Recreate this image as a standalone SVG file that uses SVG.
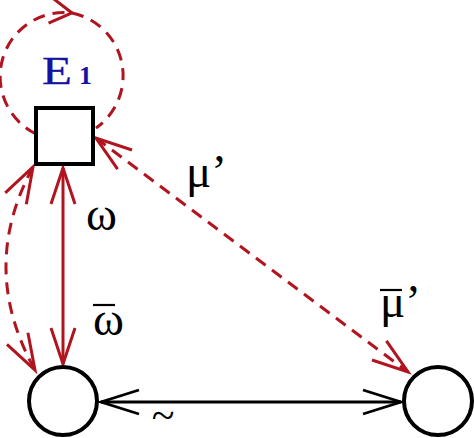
<svg xmlns="http://www.w3.org/2000/svg" width="474" height="438" viewBox="0 0 474 438">
<style>
.red{fill:none;stroke:#b0141e;stroke-width:3}
.dash{stroke-dasharray:12 8}
.blk{fill:none;stroke:#000;stroke-width:2.8}
.node{fill:#fff;stroke:#000;stroke-width:4}
.lbl{font-family:"Liberation Serif","Times New Roman",serif;font-size:47px;fill:#000}
.bar{stroke:#000;stroke-width:2.2}
</style>
<defs>
<marker id="ar" markerUnits="userSpaceOnUse" orient="auto-start-reverse" overflow="visible" markerWidth="1" markerHeight="1" refX="0" refY="0">
<path d="M-36,-12 L0,0 L-36,12" fill="none" stroke="#b0141e" stroke-width="3"/>
</marker>
<marker id="ars" markerUnits="userSpaceOnUse" orient="auto" overflow="visible" markerWidth="1" markerHeight="1" refX="0" refY="0">
<path d="M-22,-13 L0,0 L-22,13" fill="none" stroke="#b0141e" stroke-width="3"/>
</marker>
<marker id="ab" markerUnits="userSpaceOnUse" orient="auto-start-reverse" overflow="visible" markerWidth="1" markerHeight="1" refX="0" refY="0">
<path d="M-38,-12 L0,0 L-38,12" fill="none" stroke="#000" stroke-width="2.8"/>
</marker>
</defs>
<g id="connectors">
<path id="loop-a" class="red dash" d="M36,134 A64,64 0 0 1 72,13" marker-end="url(#ars)"/>
<path id="loop-b" class="red dash" d="M72,13 A64,64 0 0 1 96,128"/>
<path id="omega" class="red" d="M63,168 L63,364" marker-start="url(#ar)" marker-end="url(#ar)"/>
<path id="leftcurve" class="red dash" d="M33,167 Q-22,268 35,370" marker-start="url(#ar)" marker-end="url(#ar)"/>
<path id="mu" class="red dash" d="M96,138 L408,372" marker-start="url(#ar)" marker-end="url(#ar)"/>
<path id="bottom" class="blk" d="M101,402 L401,402" marker-start="url(#ab)" marker-end="url(#ab)"/>
</g>
<g id="E1">
<rect class="node" x="36" y="108" width="57" height="56"/>
<text x="42" y="84" font-family="Liberation Serif, serif" font-size="39" fill="#1414a0" stroke="#1414a0" stroke-width="0.3" textLength="30" lengthAdjust="spacingAndGlyphs">E</text>
<text x="79" y="84" font-family="Liberation Serif, serif" font-size="26" font-weight="bold" fill="#1414a0">1</text>
</g>
<g id="nodeL"><circle class="node" cx="63" cy="401" r="34"/></g>
<g id="nodeR"><circle class="node" cx="438" cy="401" r="34"/></g>
<g id="labels">
<text class="lbl" x="86" y="230">ω</text>
<line class="bar" x1="93" y1="305" x2="115" y2="305"/>
<text class="lbl" x="93" y="335">ω</text>
<text class="lbl" x="186" y="187">μ’</text>
<line class="bar" x1="380" y1="290" x2="402" y2="290"/>
<text class="lbl" x="380" y="317">μ’</text>
<text class="lbl" x="163" y="429" style="font-size:42px" text-anchor="middle">~</text>
</g>
</svg>
